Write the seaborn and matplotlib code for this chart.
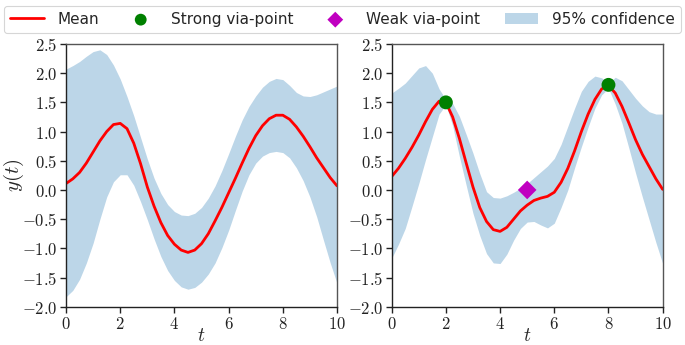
import numpy as np
import pandas as pd
import matplotlib
matplotlib.use("Agg")
import matplotlib.pyplot as plt
import seaborn as sns

# ---------------- data ----------------
t = [i * 0.25 for i in range(41)]

left_mean = [0.11, 0.19, 0.30, 0.46, 0.65, 0.84, 1.00, 1.12, 1.14, 1.05, 0.80, 0.45, 0.05,
             -0.28, -0.56, -0.78, -0.93, -1.03, -1.07, -1.03, -0.92, -0.75, -0.53, -0.30,
             -0.05, 0.20, 0.46, 0.71, 0.93, 1.10, 1.22, 1.28, 1.28, 1.21, 1.08, 0.92, 0.74,
             0.55, 0.38, 0.21, 0.07]
left_upper = [2.07, 2.13, 2.20, 2.29, 2.37, 2.40, 2.32, 2.14, 1.90, 1.60, 1.27, 0.90, 0.53,
              0.20, -0.06, -0.25, -0.37, -0.43, -0.44, -0.40, -0.30, -0.14, 0.07, 0.33,
              0.62, 0.92, 1.20, 1.43, 1.61, 1.76, 1.86, 1.91, 1.89, 1.79, 1.67, 1.61, 1.60,
              1.63, 1.68, 1.73, 1.78]
left_lower = [-1.83, -1.72, -1.53, -1.25, -0.91, -0.50, -0.12, 0.14, 0.26, 0.26, 0.08, -0.20,
              -0.51, -0.84, -1.14, -1.38, -1.55, -1.66, -1.70, -1.67, -1.58, -1.44, -1.25,
              -0.99, -0.69, -0.35, -0.02, 0.26, 0.46, 0.58, 0.64, 0.66, 0.64, 0.55, 0.38,
              0.16, -0.12, -0.46, -0.86, -1.25, -1.60]

right_mean = [0.23, 0.37, 0.54, 0.73, 0.94, 1.17, 1.38, 1.52, 1.50, 1.25, 0.88, 0.46, 0.05,
              -0.30, -0.54, -0.68, -0.71, -0.64, -0.50, -0.36, -0.26, -0.18, -0.14, -0.11,
              -0.04, 0.13, 0.37, 0.67, 1.00, 1.30, 1.55, 1.73, 1.79, 1.66, 1.43, 1.15, 0.86,
              0.61, 0.40, 0.19, 0.01]
right_upper = [1.66, 1.74, 1.83, 1.96, 2.09, 2.13, 2.00, 1.73, 1.55, 1.48, 1.26, 0.95, 0.63,
               0.28, -0.03, -0.13, -0.14, -0.10, -0.04, 0.03, 0.11, 0.21, 0.31, 0.41, 0.54,
               0.78, 1.09, 1.40, 1.69, 1.86, 1.95, 1.92, 1.83, 1.93, 1.87, 1.72, 1.57, 1.44,
               1.34, 1.30, 1.30]
right_lower = [-1.17, -0.93, -0.66, -0.28, 0.11, 0.52, 0.91, 1.30, 1.46, 1.10, 0.57, 0.08,
               -0.40, -0.78, -1.09, -1.25, -1.26, -1.10, -0.86, -0.66, -0.55, -0.54, -0.60,
               -0.65, -0.57, -0.30, 0.00, 0.38, 0.74, 1.08, 1.40, 1.63, 1.74, 1.47, 1.14,
               0.72, 0.29, -0.12, -0.51, -0.90, -1.26]

strong_t = [2.0, 8.0]
strong_y = [1.5, 1.8]
weak_t = [5.0]
weak_y = [0.0]

x_ticks = [0, 2, 4, 6, 8, 10]
y_ticks = [-2.0, -1.5, -1.0, -0.5, 0.0, 0.5, 1.0, 1.5, 2.0, 2.5]

# ---------------- style ----------------
sns.set_style("ticks")
plt.rcParams["font.family"] = ["DejaVu Sans"]
plt.rcParams["mathtext.fontset"] = "cm"

band_color = "#bcd6e8"

fig = plt.figure(figsize=(6.85, 3.45), dpi=100)
ax1 = fig.add_axes([0.0964, 0.111, 0.3956, 0.7615])
ax2 = fig.add_axes([0.5718, 0.111, 0.3956, 0.7615])


def draw(ax, mean, lo, hi, show_pts):
    ax.fill_between(t, lo, hi, color=band_color, linewidth=0, label="95% confidence")
    df = pd.DataFrame({"t": t, "y": mean})
    sns.lineplot(data=df, x="t", y="y", ax=ax, color="red", linewidth=2.0, label="Mean",
                 legend=False)
    if show_pts:
        sns.scatterplot(x=strong_t, y=strong_y, ax=ax, color="green", s=100, marker="o",
                        edgecolor="none", zorder=5, label="Strong via-point", legend=False)
        sns.scatterplot(x=weak_t, y=weak_y, ax=ax, color="#c000c0", s=90, marker="D",
                        edgecolor="none", zorder=5, label="Weak via-point", legend=False)
    ax.set_xlim(0, 10)
    ax.set_ylim(-2.0, 2.5)
    ax.set_xticks(x_ticks)
    ax.set_xticklabels([f"${v}$" for v in x_ticks], fontsize=12)
    ax.set_yticks(y_ticks)
    ax.set_yticklabels([f"${v:.1f}$" for v in y_ticks], fontsize=12)
    ax.set_xlabel("$t$", fontsize=14, labelpad=-5)
    ax.set_ylabel("")
    for s in ax.spines.values():
        s.set_visible(True)
        s.set_linewidth(1.0)
        s.set_color("#222222")
    ax.spines["top"].set_color("#555555")
    ax.spines["right"].set_color("#555555")
    ax.tick_params(axis="both", direction="out", length=4, width=1, colors="#222222",
                   pad=2)


draw(ax1, left_mean, left_lower, left_upper, False)
draw(ax2, right_mean, right_lower, right_upper, True)
ax1.set_ylabel("$y(t)$", fontsize=15, labelpad=-3)

h, l = ax2.get_legend_handles_labels()
order = ["Mean", "Strong via-point", "Weak via-point", "95% confidence"]
hd = {lab: hh for hh, lab in zip(h, l)}
leg = fig.legend([hd[k] for k in order], order, loc="lower left",
                 bbox_to_anchor=(0.006, 0.905, 0.988, 0.085), mode="expand", ncol=4,
                 fontsize=11, frameon=True, borderaxespad=0, handlelength=2.2,
                 handletextpad=0.9, markerscale=0.85)
leg.get_frame().set_edgecolor("#cccccc")
leg.get_frame().set_linewidth(0.8)

fig.savefig("out.png", dpi=100)
